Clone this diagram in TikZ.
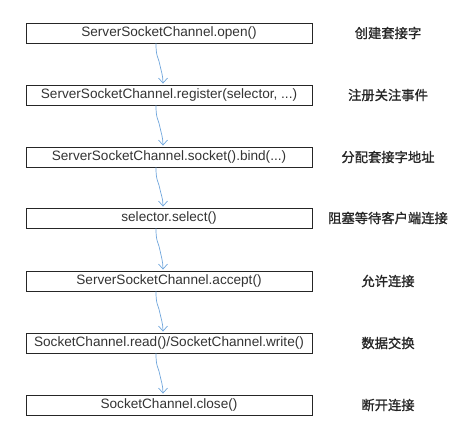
\documentclass[tikz,border=0pt]{standalone}
\usepackage{fontspec}
\setmainfont{Liberation Sans}
\newfontfamily\cjk{Noto Sans CJK SC}[FakeBold=1.2]
\usetikzlibrary{arrows.meta}
\definecolor{arrowblue}{RGB}{110,165,220}
\tikzset{
  stepbox/.style={draw=black!85, line width=0.9pt, minimum width=286pt, minimum height=20pt, inner sep=0pt, font=\fontsize{13.6}{15}\selectfont, text=black!80},
  desc/.style={font=\cjk\fontsize{13.3}{15}\selectfont, text=black!85},
  flow/.style={draw=arrowblue, line width=0.7pt, -{Straight Barb[length=5pt,width=9pt]}},
}
\begin{document}
\begin{tikzpicture}[x=1pt,y=1pt]
\useasboundingbox (0,0) rectangle (474,440);
\node[stepbox] (b1) at (169,407) {ServerSocketChannel.open()};
\node[stepbox] (b2) at (169,345) {ServerSocketChannel.register(selector, ...)};
\node[stepbox] (b3) at (169,283) {ServerSocketChannel.socket().bind(...)};
\node[stepbox] (b4) at (169,222) {selector.select()};
\node[stepbox] (b5) at (169,159) {ServerSocketChannel.accept()};
\node[stepbox] (b6) at (169,97) {SocketChannel.read()/SocketChannel.write()};
\node[stepbox] (b7) at (169,35) {SocketChannel.close()};
\node[desc] (d1) at (388,407) {创建套接字};
\node[desc] (d2) at (388,345) {注册关注事件};
\node[desc] (d3) at (388,283) {分配套接字地址};
\node[desc] (d4) at (388,222) {阻塞等待客户端连接};
\node[desc] (d5) at (388,159) {允许连接};
\node[desc] (d6) at (388,97) {数据交换};
\node[desc] (d7) at (388,35) {断开连接};
\foreach \a/\b in {b1/b2,b2/b3,b3/b4,b4/b5,b5/b6,b6/b7}{
  \draw[flow] ([xshift=-13pt]\a.south) .. controls +(0,-14) and +(-2,10) .. ([xshift=-9pt,yshift=-22pt]\a.south) .. controls +(1,-5) and +(0,8) .. ([xshift=-6pt,yshift=1pt]\b.north);
}
\end{tikzpicture}
\end{document}
